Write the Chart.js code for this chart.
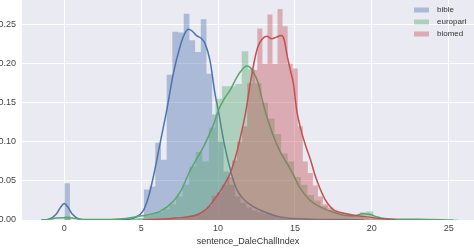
<!DOCTYPE html>
<html>
<head>
<meta charset="utf-8">
<script src="https://cdn.jsdelivr.net/npm/chart.js@4"></script>
<style>
  html, body { margin: 0; padding: 0; background: #fff; }
  #wrap { width: 474px; height: 248px; }
</style>
</head>
<body>
<div id="wrap"><canvas id="chart" width="474" height="248"></canvas></div>
<script>
// --- data ---
const seriesNames = ["bible", "europarl", "biomed"];
const xTicks = [0, 5, 10, 15, 20, 25];
const yTicks = [0, 0.05, 0.10, 0.15, 0.20, 0.25];
const axisTitle = "sentence_DaleChallIndex";

// histogram bins: first edge, bin width, bar heights (density)
const bibleStart = 0, bibleWidth = 0.37;
const bibleHist = [0.047,0,0,0,0,0,0,0,0,0,0,0,0.001,0.002,0.039,0.043,0.099,0.077,0.186,0.241,
  0.240,0.264,0.230,0.215,0.257,0.187,0.135,0.100,0.062,0.045,0.030,0.022,0.016,0.012,0.010,0.008,
  0.006,0.005,0.004,0.003,0.003,0.002,0.002,0.001,0.001,0.001,0,0.001,0,0.001];

const europarlStart = 0, europarlWidth = 0.4275;
const europarlHist = [0.005,0,0,0,0,0,0,0,0,0,0.002,0.003,0.005,0.007,0.010,0.014,0.020,0.030,0.045,0.068,
  0.087,0.075,0.118,0.155,0.171,0.171,0.174,0.216,0.193,0.175,0.150,0.130,0.110,0.085,0.075,0.055,
  0.045,0.032,0.025,0.018,0.012,0.009,0.006,0.005,0.006,0.010,0.011,0.005,0.002,0.001,0.001,0,0.001,
  0,0,0.001,0,0,0,0.001];

const biomedStart = 5.985, biomedWidth = 0.3286;
const biomedHist = [0.001,0.001,0.001,0.002,0.002,0.003,0.004,0.005,0.008,0.012,0.018,0.031,0.035,0.045,
  0.055,0.076,0.100,0.120,0.175,0.192,0.245,0.200,0.263,0.200,0.270,0.248,0.200,0.194,0.120,0.075,
  0.060,0.044,0.030,0.020,0.016,0.012,0.010,0.008,0.006,0.005,0.004,0.003,0.002,0.002,0.001,0.001];

// kde curves
const bibleKdeX = [-1.5,-1,-0.5,-0.25,0,0.25,0.5,1,1.5,3,4,4.6,5.14,5.47,5.79,6.23,6.66,7.09,7.53,7.8,8.07,8.3,
  8.6,8.94,9.15,9.48,9.8,10.02,10.4,10.9,11.2,11.6,12.3,13.2,14,16,18,19.5];
const bibleKdeY = [0,0.001,0.008,0.016,0.021,0.016,0.008,0.001,0,0,0.0005,0.003,0.012,0.029,0.055,0.098,0.14,
  0.187,0.222,0.237,0.244,0.242,0.236,0.232,0.226,0.204,0.162,0.14,0.098,0.057,0.04,0.028,0.017,0.009,
  0.004,0.001,0.0005,0];

const europarlKdeX = [-1.4,-1,-0.5,0,0.5,1,1.5,3,4,4.92,6.23,7.09,7.6,8.18,8.6,9.04,9.4,9.7,10.02,10.4,10.78,
  11.1,11.43,11.87,12.1,12.3,12.62,12.86,13.06,13.5,14,14.5,14.9,15.3,16,16.6,17.5,18.2,18.8,19.4,19.9,
  20.5,21.8,23,25.3];
const europarlKdeY = [0,0.0008,0.0025,0.003,0.0025,0.001,0.0005,0.0008,0.002,0.005,0.011,0.024,0.038,0.063,
  0.078,0.093,0.108,0.122,0.14,0.155,0.166,0.178,0.189,0.197,0.195,0.189,0.175,0.155,0.14,0.113,0.089,
  0.072,0.058,0.042,0.025,0.017,0.01,0.006,0.005,0.008,0.007,0.003,0.001,0.0008,0];

const biomedKdeX = [5.1,6,7,8,8.7,9.3,9.9,10.4,10.8,11.2,11.5,11.8,12.1,12.4,12.6,12.85,13.17,13.5,13.8,14.1,
  14.3,14.5,14.7,14.9,15.12,15.4,15.7,16,16.3,16.6,17,17.3,17.6,18.1,18.6,19.2,19.7,20.5,21.6];
const biomedKdeY = [0,0.001,0.002,0.004,0.007,0.015,0.03,0.045,0.06,0.085,0.11,0.138,0.175,0.207,0.222,0.231,
  0.235,0.232,0.234,0.236,0.231,0.21,0.192,0.175,0.14,0.115,0.095,0.078,0.058,0.042,0.025,0.017,0.012,
  0.009,0.007,0.005,0.004,0.002,0];

const colors = ["#4C72B0", "#55A868", "#C44E52"];
const fills = ["rgba(76,114,176,0.4)", "rgba(85,168,104,0.4)", "rgba(196,78,82,0.4)"];

// bars as a stepped outline, each bin starts at its left edge
function histPoints(start, width, heights){
  const pts = heights.map((h,i)=>({x:start+i*width, y:h}));
  pts.push({x:start+heights.length*width, y:0});
  return pts;
}
function kdePoints(xs, ys){ return xs.map((x,i)=>({x, y:ys[i]})); }

function histSet(label, pts, i, order){
  return { label, data:pts, stepped:"before", fill:"origin", backgroundColor:fills[i],
    borderColor:"transparent", borderWidth:0, pointRadius:0, order };
}
function kdeSet(label, pts, i, order){
  return { label:label+" kde", data:pts, fill:false, borderColor:colors[i], borderWidth:1.5,
    pointRadius:0, cubicInterpolationMode:"monotone", order };
}

const bgPlugin = {
  id: "bg",
  beforeDraw(chart){
    const {ctx, chartArea:a} = chart;
    ctx.save();
    ctx.fillStyle = "#EAEAF2";
    ctx.fillRect(a.left, a.top, a.right-a.left, a.bottom-a.top);
    ctx.restore();
  }
};

const legendPlugin = {
  id: "seabornLegend",
  afterDraw(chart){
    const {ctx, chartArea:a} = chart;
    ctx.save();
    ctx.font = "8px 'Liberation Sans', Arial, sans-serif";
    ctx.textBaseline = "middle";
    seriesNames.forEach((n,i)=>{
      const y = a.top + 10 + i*12;
      ctx.fillStyle = fills[i];
      ctx.fillRect(a.right-60, y-2.5, 15, 5);
      ctx.fillStyle = "#333";
      ctx.fillText(n, a.right-37, y);
    });
    ctx.restore();
  }
};

const ctx = document.getElementById("chart").getContext("2d");
new Chart(ctx, {
  type: "line",
  data: {
    datasets: [
      histSet(seriesNames[0], histPoints(bibleStart, bibleWidth, bibleHist), 0, 6),
      kdeSet(seriesNames[0], kdePoints(bibleKdeX, bibleKdeY), 0, 5),
      histSet(seriesNames[1], histPoints(europarlStart, europarlWidth, europarlHist), 1, 4),
      kdeSet(seriesNames[1], kdePoints(europarlKdeX, europarlKdeY), 1, 3),
      histSet(seriesNames[2], histPoints(biomedStart, biomedWidth, biomedHist), 2, 2),
      kdeSet(seriesNames[2], kdePoints(biomedKdeX, biomedKdeY), 2, 1)
    ]
  },
  options: {
    responsive: false,
    devicePixelRatio: 1,
    animation: false,
    layout: { padding: 0 },
    plugins: { legend: { display: false }, tooltip: { enabled: false } },
    scales: {
      x: {
        type: "linear", min: -2.75, max: 26.65,
        afterBuildTicks: s => { s.ticks = xTicks.map(v=>({value:v})); },
        afterFit: s => { s.height = 28; s.paddingLeft = 0; s.paddingRight = 0; },
        grid: { color: "#fff", lineWidth: 1, drawTicks: false },
        border: { display: false },
        ticks: { padding: 3, color: "#444", font: { family: "'Liberation Sans', Arial", size: 9 },
          callback: v => String(v) },
        title: { display: true, text: axisTitle, color: "#333", padding: { top: 0, bottom: 1 },
          font: { family: "'Liberation Sans', Arial", size: 9 } }
      },
      y: {
        min: 0, max: 0.2815,
        afterBuildTicks: s => { s.ticks = yTicks.map(v=>({value:v})); },
        afterFit: s => { s.width = 22; s.paddingTop = 0; s.paddingBottom = 0; },
        grid: { color: "#fff", lineWidth: 1, drawTicks: false },
        border: { display: false },
        ticks: { padding: 6, color: "#444", font: { family: "'Liberation Sans', Arial", size: 9 },
          callback: v => v.toFixed(2) }
      }
    }
  },
  plugins: [bgPlugin, legendPlugin]
});
</script>
</body>
</html>
